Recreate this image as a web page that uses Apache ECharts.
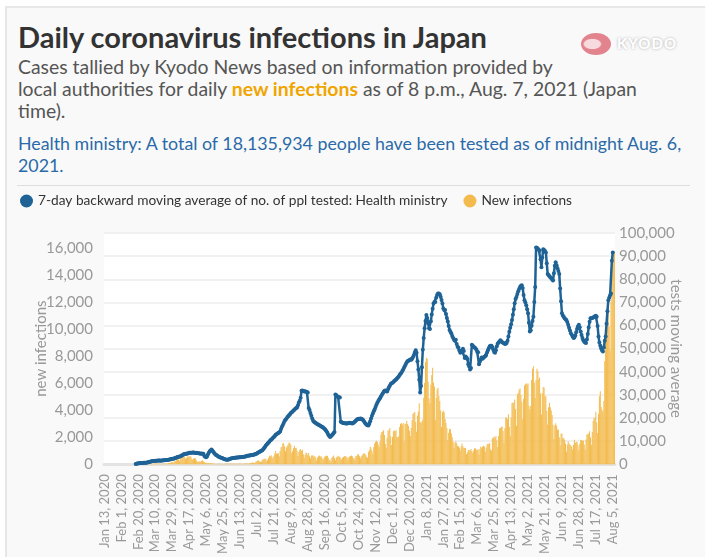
<!DOCTYPE html>
<html>
<head>
<meta charset="utf-8">
<script src="https://cdn.jsdelivr.net/npm/echarts@6/dist/echarts.min.js"></script>
<style>
  html, body { margin: 0; padding: 0; background: #fff; }
  body { width: 705px; height: 557px; overflow: hidden; position: relative; font-family: Lato, "Noto Sans", sans-serif; }
  .card { position: absolute; left: 5px; top: 6px; width: 705px; height: 560px; border: 2px solid #e7e7e7; background: #f9f9f9; box-sizing: border-box; }
  .title { position: absolute; left: 18px; top: 19px; font-size: 29px; font-weight: bold; color: #333; white-space: nowrap; }
  .sub { position: absolute; left: 18px; top: 56px; font-size: 19.4px; line-height: 22px; color: #555; white-space: nowrap; }
  .sub b { color: #f0a500; }
  .health { position: absolute; left: 18px; top: 132px; font-size: 17.8px; line-height: 22px; color: #2a6aa8; white-space: nowrap; }
  .sep { position: absolute; left: 17px; top: 185px; width: 673px; border-top: 1px solid #dedede; }
  .dot { position: absolute; left: 581px; top: 33px; width: 30px; height: 22px; border-radius: 50%;
         background: radial-gradient(ellipse at 38% 50%, #f7dadd 0 30%, #e2838e 36%); }
  .kt { position: absolute; left: 617px; top: 34px; font-size: 15px; font-weight: bold; color: #fff; letter-spacing: 1px;
        text-shadow: 0 0 3px rgba(0,0,0,0.3); }
  #chart { position: absolute; left: 0; top: 0; width: 705px; height: 557px; }
</style>
</head>
<body>
<div class="card"></div>
<div class="title">Daily coronavirus infections in Japan</div>
<div class="sub">Cases tallied by Kyodo News based on information provided by<br>local authorities for daily <b>new infections</b> as of 8 p.m., Aug. 7, 2021 (Japan<br>time).</div>
<div class="health">Health ministry: A total of 18,135,934 people have been tested as of midnight Aug. 6,<br>2021.</div>
<div class="sep"></div>
<div class="dot"></div>
<div class="kt">KYODO</div>
<div id="chart"></div>
<script>
// daily series start on Mon Jan 13, 2020 and end on Sat Aug 7, 2021
const startDate = '2020-01-13';
const testsStartDate = '2020-02-17';
const testsName = '7-day backward moving average of no. of ppl tested: Health ministry';
const casesName = 'New infections';

// new infections, one row per week (Mon..Sun)
const newInfections = [
  0,0,1,0,0,0,0,
  0,0,0,1,1,0,1,
  1,3,2,3,2,5,0,
  0,0,1,0,0,0,0,
  1,0,3,8,8,6,5,
  6,8,12,7,9,11,12,
  7,12,14,20,21,13,19,
  16,16,34,33,59,47,38,
  33,52,54,52,44,60,35,
  15,44,36,40,39,51,39,
  39,63,98,98,96,200,173,
  87,195,266,225,349,366,368,
  252,351,515,579,720,743,567,
  391,457,550,583,579,584,568,
  369,346,423,439,443,296,199,
  173,203,247,165,264,299,206,
  174,87,123,99,86,94,54,
  73,80,50,55,31,40,17,
  28,31,38,38,33,27,14,
  21,27,37,40,42,50,38,
  34,51,36,40,39,38,47,
  15,33,41,41,45,68,47,
  27,41,44,38,58,68,49,
  45,41,80,96,106,131,117,
  88,128,196,249,273,276,209,
  167,207,356,341,431,387,407,
  250,330,457,623,590,661,510,
  418,631,795,981,782,779,839,
  598,981,1264,1301,1580,1534,1331,
  959,1237,1354,1485,1605,1569,1440,
  811,986,1176,1362,1207,1224,1001,
  617,903,1078,1123,988,1072,748,
  473,710,857,838,683,838,592,
  437,646,628,664,590,575,484,
  270,509,593,648,579,598,483,
  343,430,581,590,641,610,478,
  273,354,195,478,563,645,471,
  291,519,563,629,560,557,438,
  351,491,545,613,597,577,495,
  350,525,578,617,657,597,472,
  316,487,635,616,738,747,597,
  444,602,664,775,790,807,687,
  555,475,901,1038,1293,1159,986,
  763,1277,1542,1663,1735,1639,1470,
  1260,1660,2201,2388,2427,2508,2168,
  1520,1227,1936,2504,2508,2686,2065,
  1430,2022,2434,2496,2443,2508,2022,
  1999,2065,2765,2989,3041,2929,3060,
  1680,2998,2996,3214,2984,2826,2477,
  2089,2689,3270,3742,3793,3870,3127,
  2399,3609,3899,4514,3126,3072,3171,
  3314,4915,6004,7564,7882,7790,6094,
  4876,4507,5876,6605,7133,6043,5759,
  3277,4925,5530,5651,5046,4677,3987,
  2761,3852,3960,3855,3342,3059,2673,
  1789,2324,2631,2581,2278,1991,1670,
  1207,1569,1710,1559,1359,1328,1225,
  1023,1321,1532,1330,1184,1213,1209,
  738,891,1046,1059,984,1130,991,
  831,1027,1187,1165,1092,1042,1107,
  731,1130,1306,1225,1290,1374,1311,
  934,1234,1463,1514,1473,1564,1112,
  1024,1918,1955,2055,1959,2081,1785,
  1279,2087,2641,2708,2782,2772,2457,
  1575,2657,3452,3447,3331,3697,2779,
  2105,3451,4532,4573,4530,4797,4091,
  2853,5162,5292,5526,5607,5115,4617,
  3325,4848,5830,5919,5990,5897,5968,
  4330,4073,4301,6230,7069,7244,6054,
  4896,6235,7056,6881,6262,6419,5228,
  3680,5249,5719,5668,5031,5029,3962,
  2936,4224,4541,4222,3968,3647,2919,
  1841,2858,3038,2869,2547,2566,1990,
  1405,2263,2279,1941,1939,1817,1545,
  935,1448,1708,1549,1440,1389,1306,
  1086,1445,1806,1600,1641,1645,1406,
  1039,1534,1807,1767,1747,1763,1460,
  1067,1834,2205,2227,2273,2443,2005,
  1452,2386,3195,3434,3414,3884,3101,
  2321,3738,5021,5398,4226,4028,3884,
  4687,7628,9575,10698,10746,12340,10167,
  8395,12017,14207,15263,15753,15750
];

// tests, 7-day moving average, from Mon Feb 17, 2020, one row per week
const testsAvg = [
  100,200,300,400,400,500,500,
  600,600,700,700,700,700,800,
  900,1000,1100,1200,1300,1400,1400,
  1400,1500,1500,1500,1600,1600,1600,
  1500,1600,1600,1700,1700,1700,1800,
  1800,1900,2000,2100,2200,2300,2400,
  2400,2500,2600,2800,2900,3100,3200,
  3300,3500,3600,3900,4100,4300,4400,
  4500,4600,4700,4800,5000,5000,5000,
  5000,5100,5100,5000,4900,5000,4900,
  4800,4800,4700,4600,4700,4600,4500,
  3600,3300,3000,3400,4200,5000,5600,
  6000,6400,6000,5400,4900,4400,4000,
  3900,3600,3300,3100,2900,2800,2700,
  2500,2300,2200,2100,2000,2000,2100,
  2200,2400,2500,2600,2700,2700,2800,
  2800,2900,2900,2900,3000,3000,3000,
  3100,3100,3200,3300,3400,3500,3700,
  3700,3800,3800,3900,4000,4000,4100,
  4200,4300,4500,4700,5000,5200,5400,
  5600,5800,6100,6500,7000,7500,8100,
  8600,9000,9400,9900,10400,10600,11000,
  11500,11800,12200,12800,13000,13300,13500,
  13800,14200,15300,16200,17000,17800,18700,
  19200,19700,20300,20800,21200,21600,22200,
  22500,22800,23200,23600,24000,24300,24600,
  25500,26700,27500,28800,31800,31900,31700,
  31500,31600,31400,31300,31000,24300,23500,
  22200,21000,19800,18800,18400,18100,17800,
  17500,17300,17100,16900,16700,16400,16100,
  16000,15600,15200,14800,14300,13600,12800,
  12300,11800,12100,12600,13000,13500,14000,
  30200,29800,29400,29100,29000,28900,18400,
  18200,18000,17800,17700,17700,17600,17600,
  17700,17800,17900,17800,17700,17600,17800,
  18200,18500,18900,19300,19600,19700,19600,
  19800,19700,19500,19100,18600,18000,17500,
  17100,16900,16800,17500,18600,19800,21000,
  22000,22900,23800,24800,25700,26600,27400,
  28000,28600,29300,30000,30600,31200,31800,
  31900,31600,31500,32400,33300,34000,34700,
  35000,35300,35600,36000,36300,36700,37100,
  37500,38000,38600,39100,39600,40300,41000,
  41800,42600,43400,44100,44600,44800,45100,
  45300,45200,45600,46400,47200,48300,49300,
  48200,44500,41000,36500,31000,33800,42000,
  49500,54600,58800,62000,64500,63200,60900,
  58800,58500,61800,64800,67300,69500,70200,
  70200,72000,73200,73800,73800,73500,72400,
  71000,69500,67400,66700,66700,65000,63200,
  61700,59800,58100,57300,56500,55500,54600,
  53800,53400,53800,52000,50800,50400,49200,
  48200,48600,49200,50000,49000,46000,46600,
  46200,45500,43200,42300,41000,41600,51700,
  51200,50800,50500,50200,49600,48600,48400,
  43200,44400,45300,46200,45600,46100,46500,
  46700,47300,48300,49300,50200,51000,51300,
  51200,50600,49500,48500,48200,49300,51000,
  52200,52600,53100,53600,53200,52800,52500,
  52300,52000,52100,52400,53400,55200,57300,
  59000,60500,62400,64600,67000,69600,71500,
  72300,73600,74800,75800,76600,77200,77400,
  76200,73200,70900,70000,68800,67000,65300,
  61200,57400,58000,59900,62000,63800,70200,
  76600,93700,93600,93200,92800,92300,88600,
  85200,89400,93000,92700,92200,91600,86900,
  82300,81800,81300,80900,80400,79900,79500,
  82600,85800,87300,86100,84800,83600,82300,
  76000,70500,65300,64300,63800,63100,62700,
  62400,61500,60300,59000,57800,56700,56000,
  55300,54600,54800,55700,57100,58600,59700,
  60300,59200,57400,55900,54600,53600,53000,
  52700,52400,53900,56300,59100,61600,63100,
  63100,63300,63500,63700,64000,64200,63800,
  59800,55300,52600,51300,50100,49200,48800,
  50500,53400,55300,60800,66200,70900,72000,
  73100,73800,88000,91600
];

const monthNames = ['Jan','Feb','Mar','Apr','May','Jun','Jul','Aug','Sep','Oct','Nov','Dec'];
const dayMs = 86400000;
const t0 = Date.parse(startDate + 'T00:00:00Z');
const dates = newInfections.map(function (v, i) {
  const d = new Date(t0 + i * dayMs);
  return monthNames[d.getUTCMonth()] + ' ' + d.getUTCDate() + ', ' + d.getUTCFullYear();
});
const testsOffset = Math.round((Date.parse(testsStartDate + 'T00:00:00Z') - t0) / dayMs);
const testsSeries = dates.map(function (v, i) {
  const k = i - testsOffset;
  return (k >= 0 && k < testsAvg.length) ? testsAvg[k] : null;
});

const fmt = function (v) { return Number(v).toLocaleString('en-US'); };
const gray = '#999';

const chart = echarts.init(document.getElementById('chart'));
chart.setOption({
  animation: false,
  textStyle: { fontFamily: 'Lato' },
  legend: {
    left: 15, top: 189,
    icon: 'circle', itemWidth: 13, itemHeight: 14, itemGap: 16,
    textStyle: { fontSize: 13.7, color: '#333' },
    data: [testsName, casesName]
  },
  grid: { left: 104, right: 90, top: 233, bottom: 91, show: true, backgroundColor: '#fff', borderWidth: 0 },
  xAxis: {
    type: 'category',
    data: dates,
    axisTick: { show: false },
    axisLine: { lineStyle: { color: '#e3e3e3', width: 3 } },
    axisLabel: { interval: 18, rotate: 90, color: gray, fontSize: 13, margin: 10 }
  },
  yAxis: [
    {
      type: 'value', min: 0, max: 17100, interval: 2000,
      name: 'new infections', nameLocation: 'middle', nameGap: 55, nameMoveOverlap: false,
      nameTextStyle: { color: gray, fontSize: 15 },
      axisLabel: { color: gray, fontSize: 15, margin: 11, showMaxLabel: false, formatter: fmt },
      axisLine: { show: false }, axisTick: { show: false }, splitLine: { show: false }
    },
    {
      type: 'value', min: 0, max: 100000, interval: 10000, position: 'right',
      name: 'tests moving average', nameLocation: 'middle', nameRotate: -90, nameGap: 53, nameMoveOverlap: false,
      nameTextStyle: { color: gray, fontSize: 15 },
      axisLabel: { color: gray, fontSize: 15, margin: 4, formatter: fmt },
      axisLine: { show: false }, axisTick: { show: false },
      splitLine: { lineStyle: { color: '#ececec', width: 1.5 } }
    }
  ],
  series: [
    {
      name: testsName, type: 'line', yAxisIndex: 1, data: testsSeries,
      symbol: 'circle', symbolSize: 4, showAllSymbol: true,
      lineStyle: { width: 2.5, color: '#1f6396' },
      itemStyle: { color: '#1f6396' },
      z: 3
    },
    {
      name: casesName, type: 'bar', yAxisIndex: 0, data: newInfections,
      barCategoryGap: '0%',
      itemStyle: { color: '#f3bb4d' },
      z: 2
    }
  ]
});
</script>
</body>
</html>
